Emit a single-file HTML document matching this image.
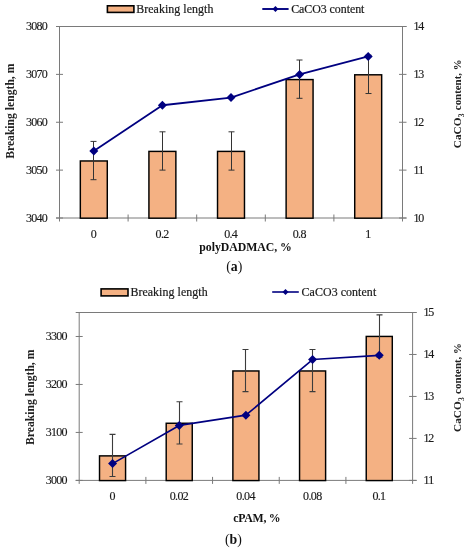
<!DOCTYPE html>
<html lang="en"><head><meta charset="utf-8"><title>Breaking length and CaCO3 content</title>
<style>html,body{margin:0;padding:0;background:#fff}svg{display:block}text{font-family:'Liberation Serif', serif}</style>
</head><body>
<svg width="469" height="550" viewBox="0 0 469 550">
<rect width="469" height="550" fill="#fff"/>
<g stroke="#7a7a7a" stroke-width="1" fill="none">
<path d="M59.5 26.5V221.5M402.5 26.5V221.5M56 26.5H406.5M56 218H406.5"/>
<path d="M56 218H63M56 170.12H63M56 122.25H63M56 74.38H63M56 26.5H63M399 218H406.5M399 170.12H406.5M399 122.25H406.5M399 74.38H406.5M399 26.5H406.5M128.1 214.5V221.5M196.7 214.5V221.5M265.3 214.5V221.5M333.9 214.5V221.5"/>
</g>
<rect x="80.33" y="160.97" width="26.95" height="57.2" fill="#F4B183" stroke="#000" stroke-width="1.45"/>
<rect x="148.92" y="151.4" width="26.95" height="66.78" fill="#F4B183" stroke="#000" stroke-width="1.45"/>
<rect x="217.53" y="151.4" width="26.95" height="66.78" fill="#F4B183" stroke="#000" stroke-width="1.45"/>
<rect x="286.12" y="79.59" width="26.95" height="138.59" fill="#F4B183" stroke="#000" stroke-width="1.45"/>
<rect x="354.72" y="74.8" width="26.95" height="143.38" fill="#F4B183" stroke="#000" stroke-width="1.45"/>
<path d="M93.5 141.4V179.7M90.5 141.4H96.5M90.5 179.7H96.5M162.5 131.82V170.12M159.5 131.82H165.5M159.5 170.12H165.5M231.5 131.82V170.12M228.5 131.82H234.5M228.5 170.12H234.5M299.5 60.01V98.31M296.5 60.01H302.5M296.5 98.31H302.5M368.5 55.22V93.52M365.5 55.22H371.5M365.5 93.52H371.5" stroke="#333" stroke-width="1" fill="none"/>
<polyline points="93.8,150.97 162.4,105.25 231,97.59 299.6,74.38 368.2,56.42" fill="none" stroke="#000080" stroke-width="1.8" stroke-linejoin="round"/>
<path d="M89.3 150.97L93.8 146.47L98.3 150.97L93.8 155.47Z" fill="#000080"/>
<path d="M157.9 105.25L162.4 100.75L166.9 105.25L162.4 109.75Z" fill="#000080"/>
<path d="M226.5 97.59L231 93.09L235.5 97.59L231 102.09Z" fill="#000080"/>
<path d="M295.1 74.38L299.6 69.88L304.1 74.38L299.6 78.88Z" fill="#000080"/>
<path d="M363.7 56.42L368.2 51.92L372.7 56.42L368.2 60.92Z" fill="#000080"/>
<g font-size="12" fill="#1a1a1a" stroke="#1a1a1a" stroke-width="0.15">
<text x="47.7" y="221.9" text-anchor="end" textLength="21.6" lengthAdjust="spacing">3040</text>
<text x="47.7" y="174.03" text-anchor="end" textLength="21.6" lengthAdjust="spacing">3050</text>
<text x="47.7" y="126.15" text-anchor="end" textLength="21.6" lengthAdjust="spacing">3060</text>
<text x="47.7" y="78.28" text-anchor="end" textLength="21.6" lengthAdjust="spacing">3070</text>
<text x="47.7" y="30.4" text-anchor="end" textLength="21.6" lengthAdjust="spacing">3080</text>
<text x="413.4" y="221.9" textLength="10.8" lengthAdjust="spacing">10</text>
<text x="413.4" y="174.03" textLength="10.8" lengthAdjust="spacing">11</text>
<text x="413.4" y="126.15" textLength="10.8" lengthAdjust="spacing">12</text>
<text x="413.4" y="78.28" textLength="10.8" lengthAdjust="spacing">13</text>
<text x="413.4" y="30.4" textLength="10.8" lengthAdjust="spacing">14</text>
<text x="93.8" y="237.6" text-anchor="middle">0</text>
<text x="162.4" y="237.6" text-anchor="middle" textLength="13.65" lengthAdjust="spacing">0.2</text>
<text x="231" y="237.6" text-anchor="middle" textLength="13.65" lengthAdjust="spacing">0.4</text>
<text x="299.6" y="237.6" text-anchor="middle" textLength="13.65" lengthAdjust="spacing">0.8</text>
<text x="368.2" y="237.6" text-anchor="middle">1</text>
</g>
<rect x="107.4" y="5.8" width="26.5" height="6.6" fill="#F4B183" stroke="#000" stroke-width="1.6"/>
<text x="136.2" y="12.6" font-size="11.9" fill="#1a1a1a" stroke="#1a1a1a" stroke-width="0.2" textLength="77.2" lengthAdjust="spacing">Breaking length</text>
<path d="M262.3 9H288.6" stroke="#000080" stroke-width="1.9"/>
<path d="M272.45 9L275.45 6L278.45 9L275.45 12Z" fill="#000080"/>
<text x="291.2" y="12.6" font-size="11.9" fill="#1a1a1a" stroke="#1a1a1a" stroke-width="0.2" textLength="73.2" lengthAdjust="spacing">CaCO3 content</text>
<text x="199.3" y="251.2" font-size="11.8" font-weight="bold" fill="#111" textLength="92.6" lengthAdjust="spacing">polyDADMAC, %</text>
<text transform="translate(13.5 158.8) rotate(-90)" font-size="11.6" font-weight="bold" fill="#222" textLength="95.2" lengthAdjust="spacing">Breaking length, m</text>
<g transform="translate(461.3 148.2) rotate(-90)" font-size="11.2" font-weight="bold" fill="#222">
<text x="0" y="0" textLength="30.6" lengthAdjust="spacingAndGlyphs">CaCO</text>
<text x="31" y="2.2" font-size="7.6">3</text>
<text x="38" y="0" textLength="50.8" lengthAdjust="spacingAndGlyphs">content, %</text>
</g>
<text x="234.2" y="270.8" font-size="13.8" fill="#111" text-anchor="middle">(<tspan font-weight="bold">a</tspan>)</text>
<g stroke="#7a7a7a" stroke-width="1" fill="none">
<path d="M79.2 312.5V483.9M412.6 312.5V483.9M75.7 312.5H416.6M75.7 480.4H416.6"/>
<path d="M75.7 480.4H82.7M75.7 432.43H82.7M75.7 384.46H82.7M75.7 336.49H82.7M409.1 480.4H416.6M409.1 438.42H416.6M409.1 396.45H416.6M409.1 354.48H416.6M409.1 312.5H416.6M145.88 476.9V483.9M212.56 476.9V483.9M279.24 476.9V483.9M345.92 476.9V483.9"/>
</g>
<rect x="99.52" y="455.88" width="26.05" height="24.7" fill="#F4B183" stroke="#000" stroke-width="1.45"/>
<rect x="166.2" y="423.26" width="26.05" height="57.32" fill="#F4B183" stroke="#000" stroke-width="1.45"/>
<rect x="232.88" y="370.97" width="26.05" height="109.6" fill="#F4B183" stroke="#000" stroke-width="1.45"/>
<rect x="299.56" y="370.97" width="26.05" height="109.6" fill="#F4B183" stroke="#000" stroke-width="1.45"/>
<rect x="366.24" y="336.43" width="26.05" height="144.14" fill="#F4B183" stroke="#000" stroke-width="1.45"/>
<path d="M112.5 434.35V476.56M109.5 434.35H115.5M109.5 476.56H115.5M179.5 401.73V443.94M176.5 401.73H182.5M176.5 443.94H182.5M245.5 349.44V391.65M242.5 349.44H248.5M242.5 391.65H248.5M312.5 349.44V391.65M309.5 349.44H315.5M309.5 391.65H315.5M379.5 314.9V357.11M376.5 314.9H382.5M376.5 357.11H382.5" stroke="#3c3c3c" stroke-width="1.1" fill="none"/>
<polyline points="112.54,463.61 179.22,425.41 245.9,415.13 312.58,359.51 379.26,355.31" fill="none" stroke="#000080" stroke-width="1.65" stroke-linejoin="round"/>
<path d="M108.04 463.61L112.54 459.11L117.04 463.61L112.54 468.11Z" fill="#000080"/>
<path d="M174.72 425.41L179.22 420.91L183.72 425.41L179.22 429.91Z" fill="#000080"/>
<path d="M241.4 415.13L245.9 410.63L250.4 415.13L245.9 419.63Z" fill="#000080"/>
<path d="M308.08 359.51L312.58 355.01L317.08 359.51L312.58 364.01Z" fill="#000080"/>
<path d="M374.76 355.31L379.26 350.81L383.76 355.31L379.26 359.81Z" fill="#000080"/>
<g font-size="12" fill="#1a1a1a" stroke="#1a1a1a" stroke-width="0.15">
<text x="67.4" y="484.3" text-anchor="end" textLength="21.6" lengthAdjust="spacing">3000</text>
<text x="67.4" y="436.33" text-anchor="end" textLength="21.6" lengthAdjust="spacing">3100</text>
<text x="67.4" y="388.36" text-anchor="end" textLength="21.6" lengthAdjust="spacing">3200</text>
<text x="67.4" y="340.39" text-anchor="end" textLength="21.6" lengthAdjust="spacing">3300</text>
<text x="423.5" y="484.3" textLength="10.8" lengthAdjust="spacing">11</text>
<text x="423.5" y="442.32" textLength="10.8" lengthAdjust="spacing">12</text>
<text x="423.5" y="400.35" textLength="10.8" lengthAdjust="spacing">13</text>
<text x="423.5" y="358.38" textLength="10.8" lengthAdjust="spacing">14</text>
<text x="423.5" y="316.4" textLength="10.8" lengthAdjust="spacing">15</text>
<text x="112.54" y="500" text-anchor="middle">0</text>
<text x="179.22" y="500" text-anchor="middle" textLength="19.10" lengthAdjust="spacing">0.02</text>
<text x="245.9" y="500" text-anchor="middle" textLength="19.10" lengthAdjust="spacing">0.04</text>
<text x="312.58" y="500" text-anchor="middle" textLength="19.10" lengthAdjust="spacing">0.08</text>
<text x="379.26" y="500" text-anchor="middle" textLength="13.65" lengthAdjust="spacing">0.1</text>
</g>
<rect x="101.1" y="288.9" width="26.9" height="7" fill="#F4B183" stroke="#000" stroke-width="1.6"/>
<text x="130.4" y="295.6" font-size="11.9" fill="#1a1a1a" stroke="#1a1a1a" stroke-width="0.2" textLength="77.2" lengthAdjust="spacing">Breaking length</text>
<path d="M272.2 292H298.8" stroke="#000080" stroke-width="1.6"/>
<path d="M282.5 292L285.5 289L288.5 292L285.5 295Z" fill="#000080"/>
<text x="301.6" y="295.6" font-size="11.9" fill="#1a1a1a" stroke="#1a1a1a" stroke-width="0.2" textLength="74.6" lengthAdjust="spacing">CaCO3 content</text>
<text x="233.3" y="521.7" font-size="11.8" font-weight="bold" fill="#111" textLength="47.2" lengthAdjust="spacing">cPAM, %</text>
<text transform="translate(34.4 444.9) rotate(-90)" font-size="11.6" font-weight="bold" fill="#222" textLength="95.3" lengthAdjust="spacing">Breaking length, m</text>
<g transform="translate(461.3 431.9) rotate(-90)" font-size="11.2" font-weight="bold" fill="#222">
<text x="0" y="0" textLength="30.6" lengthAdjust="spacingAndGlyphs">CaCO</text>
<text x="31" y="2.2" font-size="7.6">3</text>
<text x="38" y="0" textLength="50.8" lengthAdjust="spacingAndGlyphs">content, %</text>
</g>
<text x="233.4" y="544" font-size="13.8" fill="#111" text-anchor="middle">(<tspan font-weight="bold">b</tspan>)</text>
</svg></body></html>
